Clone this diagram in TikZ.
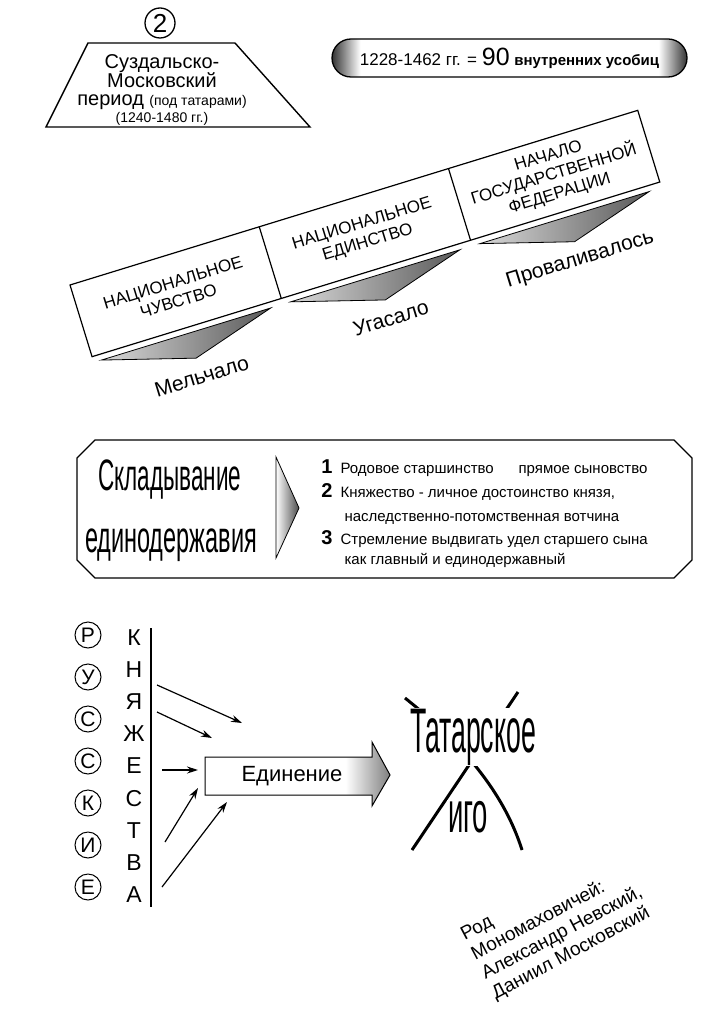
\documentclass[tikz,border=0pt]{standalone}
\usepackage{fontspec}
\setmainfont{Liberation Sans}
\usepackage{graphicx}
\usetikzlibrary{arrows.meta}

\pgfdeclarehorizontalshading{pillshade}{100bp}{color(0bp)=(black!80); color(25bp)=(black!80);
  color(29bp)=(white); color(71bp)=(white); color(75bp)=(black!80); color(100bp)=(black!80)}
\pgfdeclarehorizontalshading{arrowshade}{100bp}{color(0bp)=(white); color(63bp)=(white);
  color(75bp)=(black!50); color(100bp)=(black!50)}

\newcommand{\fsz}[2]{\fontsize{#1}{#2}\selectfont}
\newcommand{\squeeze}[2]{\resizebox{#1pt}{\height}{#2}}

\begin{document}
\begin{tikzpicture}[
    x=1pt, y=-1pt, line width=1.2pt,
    period/.style={font=\fsz{20}{22}, anchor=base, inner sep=0},
    caps/.style={font=\fsz{17}{19.5}, align=center, inner sep=0, rotate=17.1},
    fate/.style={font=\fsz{21}{24}, inner sep=0, rotate=17.1},
    wedge/.style={draw, line width=0.8pt, left color=black!15, right color=black!65},
    item/.style={font=\fsz{15}{18}, anchor=base west, inner sep=0},
    num/.style={font=\bfseries\fsz{20}{20}, anchor=base east, inner sep=0},
    ring/.style={circle, draw, line width=1pt, minimum size=26pt, inner sep=0, font=\fsz{21}{21}},
    letter/.style={font=\fsz{23}{23}, inner sep=0},
    feed/.style={-{Stealth[length=11pt,width=7pt]}, line width=1.2pt},
]
\useasboundingbox (0,0) rectangle (725,1024);

% ---- period trapezoid -------------------------------------------------------
\node[circle, draw, line width=1.3pt, minimum size=30pt, inner sep=0, font=\fsz{26}{26}] (two) at (160,23) {2};
\draw[line width=1.4pt] (88,43) -- (235,43) -- (310,127) -- (46,127) -- cycle;
\node[period] (p1) at (162,69) {Суздальско-};
\node[period] (p2) at (162,88) {Московский};
\node[period] (p3) at (162,106) {период {\fsz{14}{16}(под татарами)}};
\node[period, font=\fsz{14}{16}] (p4) at (162,123) {(1240-1480 гг.)};

% ---- strife pill ------------------------------------------------------------
\node[draw, line width=1.3pt, rounded corners=19pt, shading=pillshade, minimum width=355pt,
      minimum height=38pt, inner sep=0] (strife) at (509.5,58)
      {\fsz{17}{20}1228-1462 гг. = {\fsz{25}{25}90} {\bfseries\fsz{15}{18}внутренних усобиц}};

% ---- slanted band -----------------------------------------------------------
\begin{scope}[shift={(70,285)}, rotate=17.1]
  \draw (0,0) rectangle (594,75);
  \draw (198,0) -- (198,75);
  \draw (396,0) -- (396,75);
  \foreach \k in {0,1,2}
    \path[wedge] (8+198*\k,81) -- (185+198*\k,81) -- (99+198*\k,107) -- cycle;
  \node[caps] (feel) at (99,37.5) {НАЦИОНАЛЬНОЕ\\ЧУВСТВО};
  \node[caps] (unit) at (297,37.5) {НАЦИОНАЛЬНОЕ\\ЕДИНСТВО};
  \node[caps] (fed) at (495,37.5) {НАЧАЛО\\ГОСУДАРСТВЕННОЙ\\ФЕДЕРАЦИИ};
  \node[fate] (f1) at (99,126) {Мельчало};
  \node[fate] (f2) at (297,126) {Угасало};
  \node[fate] (f3) at (495,126) {Проваливалось};
\end{scope}

% ---- autocracy box ----------------------------------------------------------
\draw (95,440) -- (674,440) -- (692,458) -- (692,560) -- (674,578) -- (95,578)
      -- (77,560) -- (77,458) -- cycle;
\node[inner sep=0, anchor=base] (fold) at (170,490) {\fsz{44}{44}\squeeze{143}{Складывание}};
\node[inner sep=0, anchor=base] (sole) at (171,552) {\fsz{44}{44}\squeeze{172}{единодержавия}};
\shadedraw[left color=white, right color=black!70, line width=0.8pt] (276,457) -- (299,508) -- (276,558) -- cycle;

\node[num] (n1) at (333,473) {1};
\node[item] (i1) at (340,473) {Родовое старшинство};
\node[item] (i1b) at (518,473) {прямое сыновство};
\node[num] (n2) at (333,497) {2};
\node[item] (i2) at (340,497) {Княжество - личное достоинство князя,};
\node[item] (i2b) at (344,521) {наследственно-потомственная вотчина};
\node[num] (n3) at (333,544) {3};
\node[item] (i3) at (340,544) {Стремление выдвигать удел старшего сына};
\node[item] (i3b) at (344,564) {как главный и единодержавный};

% ---- principalities ---------------------------------------------------------
\foreach \ch [count=\i] in {Р,У,С,С,К,И,Е}
  \node[ring] (r\i) at (88,593+42*\i) {\ch};
\foreach \ch [count=\i] in {К,Н,Я,Ж,Е,С,Т,В,А}
  \node[letter] (c\i) at (134,605+32.2*\i) {\ch};
\draw (151,628) -- (151,907);

\shadedraw[shading=arrowshade, line width=1pt] (205,757) -- (372,757) -- (372,742) -- (390,775)
  -- (372,806) -- (372,795) -- (205,795) -- cycle;
\node[font=\fsz{22}{22}, inner sep=0] (unity) at (292,776) {Единение};

\coordinate (s1) at (157,685);  \coordinate (e1) at (242,723);
\coordinate (s2) at (157,712);  \coordinate (e2) at (212,738);
\coordinate (s3) at (162,770);  \coordinate (e3) at (198,770);
\coordinate (s4) at (165,842);  \coordinate (e4) at (198,788);
\coordinate (s5) at (162,887);  \coordinate (e5) at (227,802);
\foreach \i in {1,...,5}
  \draw[feed] (s\i) -- (e\i);

% ---- tatar yoke -------------------------------------------------------------
\draw[line width=3pt] (518,692) -- (412,850);
\draw[line width=3pt] (405,698) .. controls (445,730) and (500,780) .. (522,850);
\node[fill=white, inner sep=1pt] (yoke) at (473,737) {\fsz{63}{63}\squeeze{126}{Татарское}};
\node[fill=white, inner sep=1pt] (igo) at (468,817) {\fsz{58}{58}\squeeze{40}{иго}};

% ---- dynasty ----------------------------------------------------------------
\node[rotate=28, anchor=north west, align=left, font=\fsz{19}{22}, inner sep=0] (dynasty) at (458,929)
  {Род\\Мономаховичей:\\Александр Невский,\\Даниил Московский};

\end{tikzpicture}
\end{document}
